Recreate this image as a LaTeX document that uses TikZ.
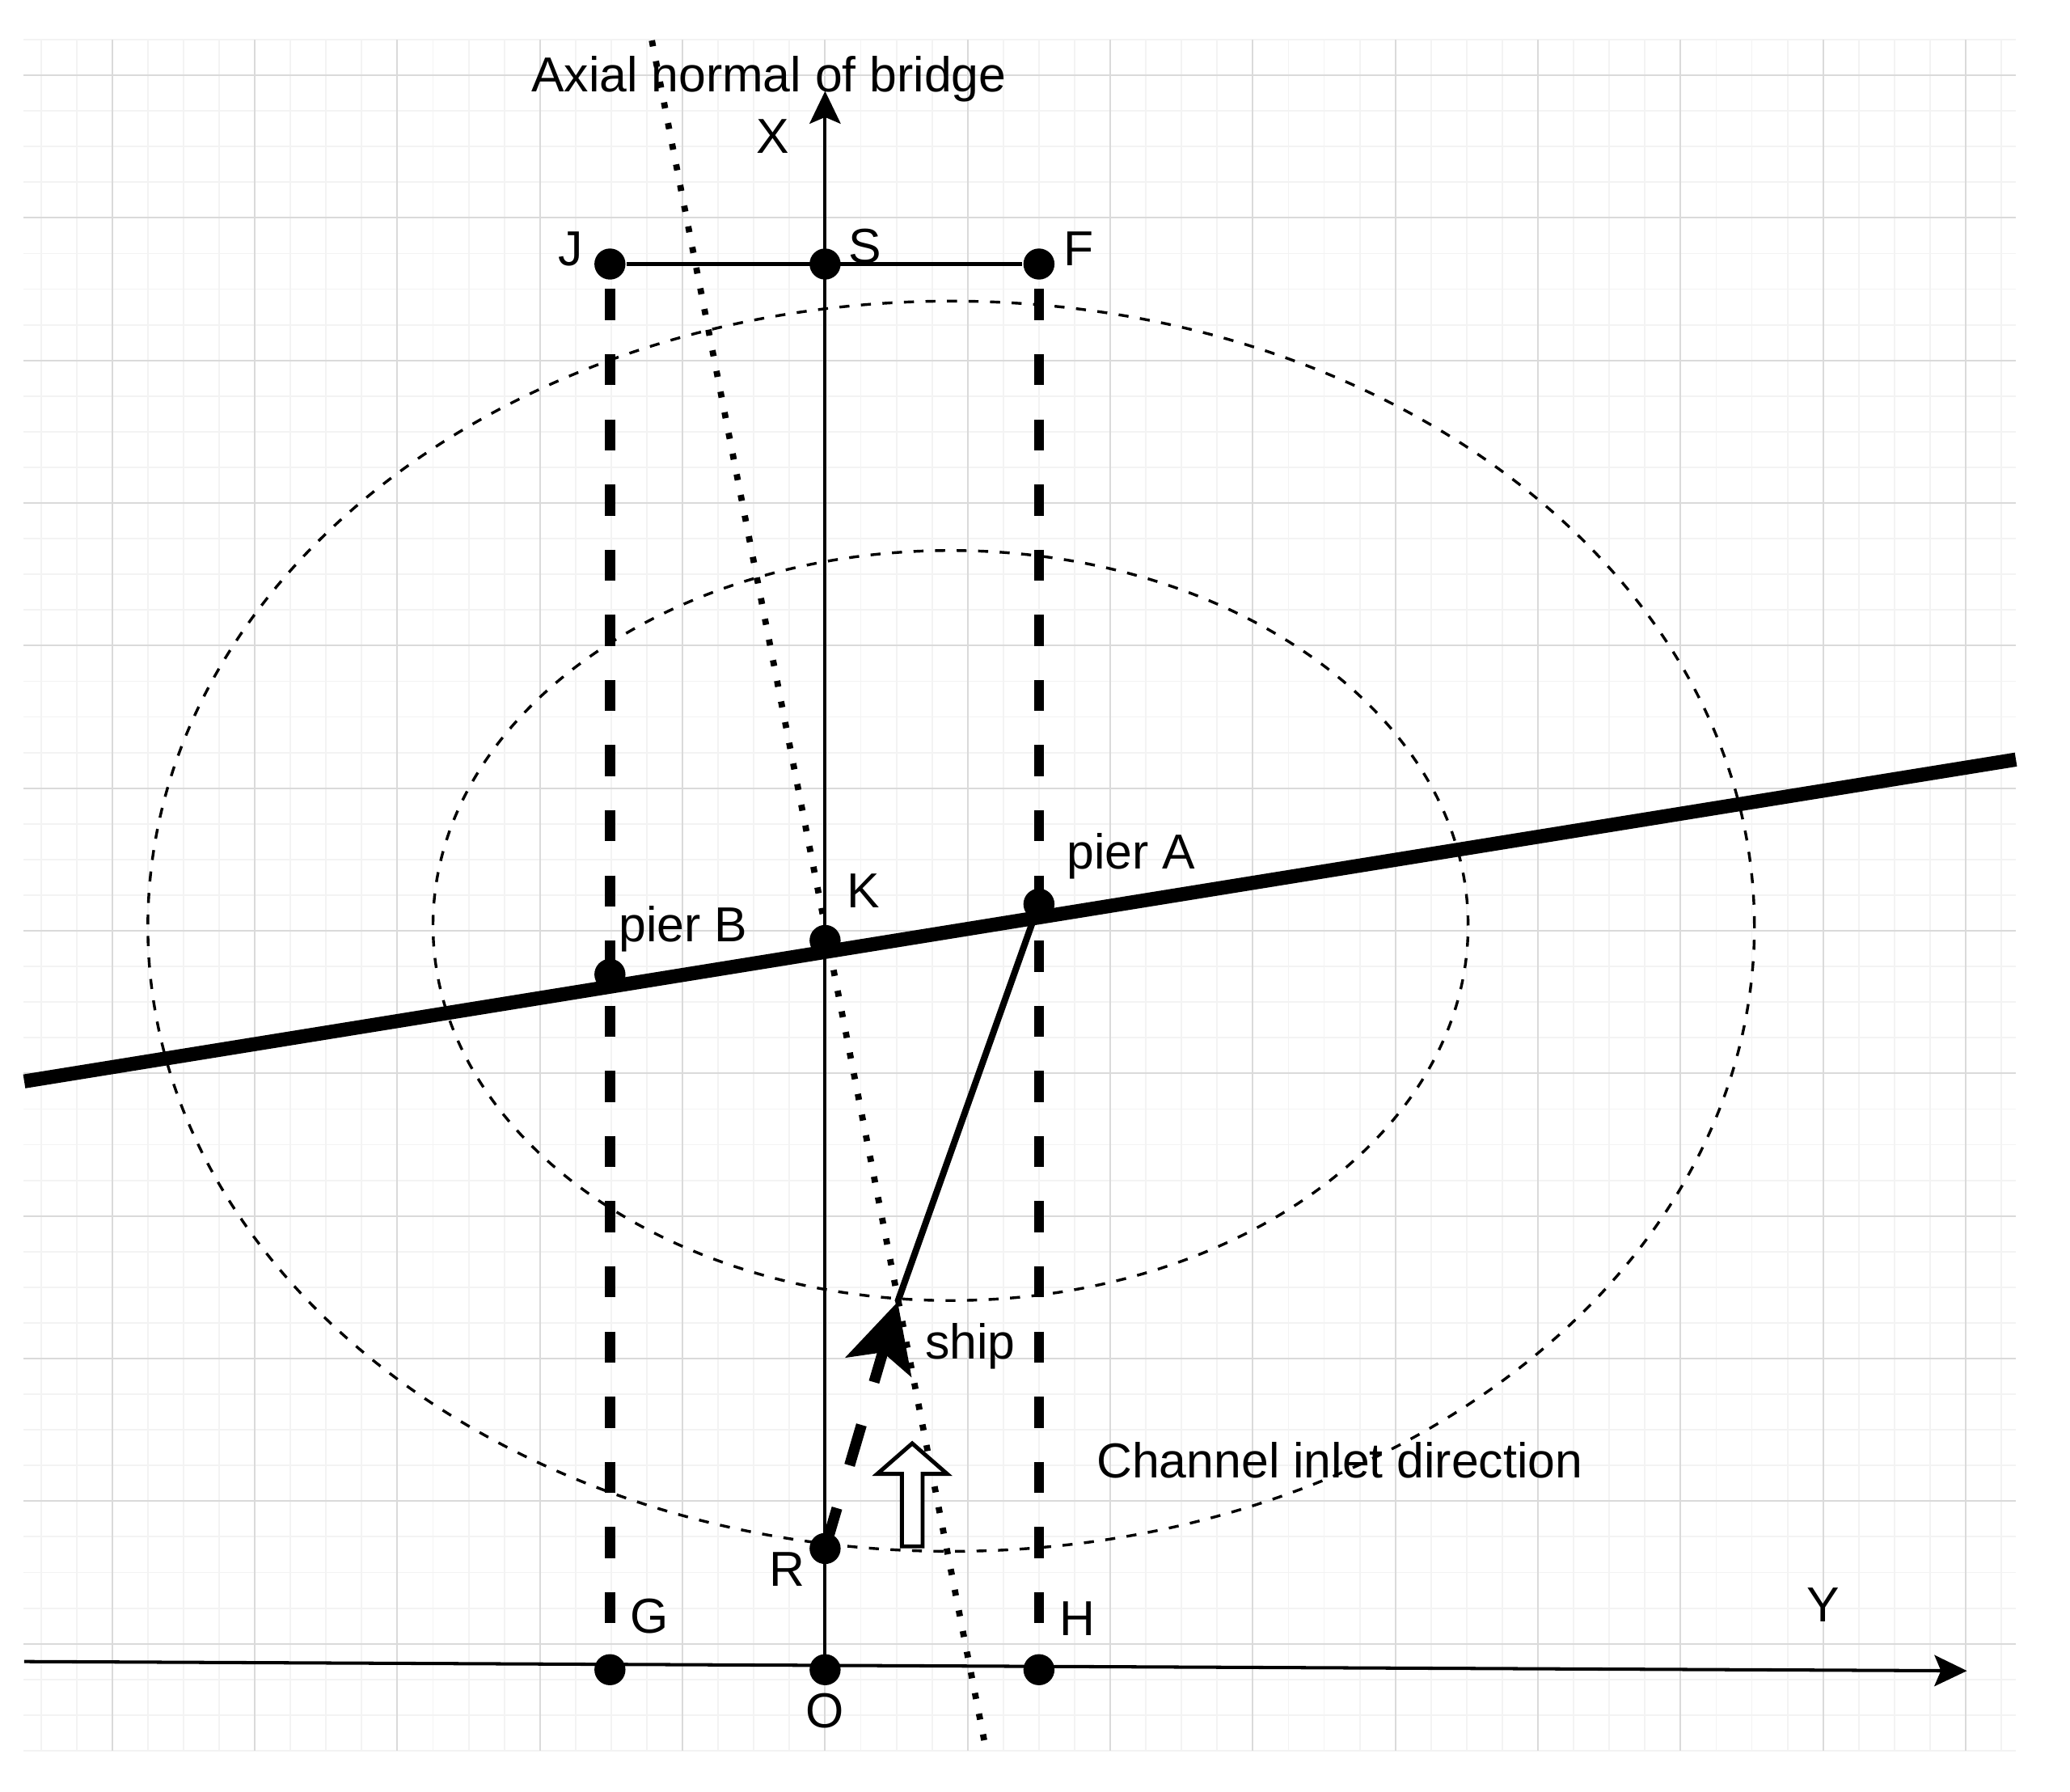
\documentclass[tikz,border=0pt]{standalone}
\usepackage{fontspec}
\setmainfont{Liberation Sans}
\usetikzlibrary{arrows.meta,positioning}
\definecolor{minorgrid}{RGB}{243,243,243}
\definecolor{majorgrid}{RGB}{218,218,218}

\begin{document}
\begin{tikzpicture}[thin,
		dot node/.style = {circle,fill,inner sep = 0pt, minimum size = 6.2pt},
		text node/.style = {inner sep = 0pt, font = \fontsize{9.8}{11}\selectfont},
		axis line/.style = {line width = 0.65pt, -{Stealth[length=6.5pt,width=6.2pt,inset=1.3pt]}},
		pier line/.style = {line width = 2.05pt, dash pattern = on 6.2pt off 6.8pt, dash phase = 8pt},
		ring line/.style = {line width = 0.55pt, dash pattern = on 2pt off 2.3pt}]
		
		\useasboundingbox (0,0) rectangle (14.5185,12.5648);
		\fill[white] (0,0) rectangle (14.5185,12.5648);
		
		% grid
		\begin{scope}[shift={(0.787,0.037)}]
		\draw[minorgrid, line width = 0.3pt] (-0.62,0.25) grid[step=0.25] (13.352,12.25);
		\draw[majorgrid, line width = 0.3pt] (-0.62,0.25) grid[step=1] (13.352,12.25);
		\end{scope}
		
		% rings
		\draw[ring line] (6.671,6.069) ellipse [x radius=5.634, y radius=4.384];
		\draw[ring line] (6.667,6.074) ellipse [x radius=3.63, y radius=2.63];
		
		\coordinate (n1) at (4.572,12.281);
		\coordinate (n2) at (6.917,0.287);
		\coordinate (b1) at (0.170,4.981);
		\coordinate (b2) at (14.139,7.238);
		\coordinate (y0) at (0.170,0.912);
		\coordinate (y1) at (13.796,0.847);
		\coordinate (x1) at (5.787,11.926);
		\coordinate (tip) at (6.296,3.435);
		
		\node[dot node] (J) at (4.278,10.713) {};
		\node[dot node] (S) at (5.787,10.713) {};
		\node[dot node] (F) at (7.287,10.713) {};
		\node[dot node] (G) at (4.278,0.855) {};
		\node[dot node] (O) at (5.787,0.855) {};
		\node[dot node] (H) at (7.287,0.855) {};
		\node[dot node] (R) at (5.787,1.705) {};
		
		% axial normal
		\draw[line width = 1.25pt, dash pattern = on 1.2pt off 3pt] (n1) -- (n2);
		
		% axes
		\draw[axis line] (y0) -- (y1);
		\draw[axis line] (O.center) -- (x1);
		\draw[line width = 0.65pt] (J) -- (F);
		
		\draw[pier line] (J.center) -- (G.center);
		\draw[pier line] (F.center) -- (H.center);
		
		% bridge
		\draw[line width = 2.8pt] (b1) -- (b2);
		\node[dot node] (pierB) at (4.278,5.731) {};
		\node[dot node] (K) at (5.787,5.969) {};
		\node[dot node] (pierA) at (7.287,6.224) {};
		
		% ship
		\draw[line width = 1.3pt] (pierA) -- (tip);
		\draw[line width = 2.15pt, dash pattern = on 8.4pt off 8.9pt,
			-{Stealth[length=13.5pt,width=13.5pt,inset=3pt]}] (R.center) -- (tip);
		
		% channel inlet
		\draw[line width = 0.8pt, fill = white] (6.325,1.72) -- (6.325,2.228) -- (6.153,2.228)
			-- (6.398,2.442) -- (6.643,2.228) -- (6.471,2.228) -- (6.471,1.72) -- cycle;
		
		\node[text node, anchor = base west] (tn) at (3.72,11.921) {Axial normal of bridge};
		\node[text node, anchor = base west] (tX) at (5.296,11.49) {X};
		\node[text node, anchor = base east] (tJ) at (4.093,10.704) {J};
		\node[text node, anchor = base west] (tS) at (5.944,10.72) {S};
		\node[text node, anchor = base west] (tF) at (7.454,10.704) {F};
		\node[text node, anchor = base west] (tA) at (7.477,6.472) {pier A};
		\node[text node, anchor = base west] (tK) at (5.935,6.199) {K};
		\node[text node, anchor = base west] (tB) at (4.333,5.958) {pier B};
		\node[text node, anchor = base west] (tship) at (6.481,3.034) {ship};
		\node[text node, anchor = base west] (tc) at (7.685,2.198) {Channel inlet direction};
		\node[text node, anchor = base east] (tR) at (5.654,1.441) {R};
		\node[text node, anchor = base west] (tG) at (4.413,1.111) {G};
		\node[text node, anchor = base west] (tH) at (7.424,1.093) {H};
		\node[text node, anchor = base] (tO) at (5.787,0.449) {O};
		\node[text node, anchor = base] (tY) at (12.787,1.19) {Y};
		\end{tikzpicture}
\end{document}
